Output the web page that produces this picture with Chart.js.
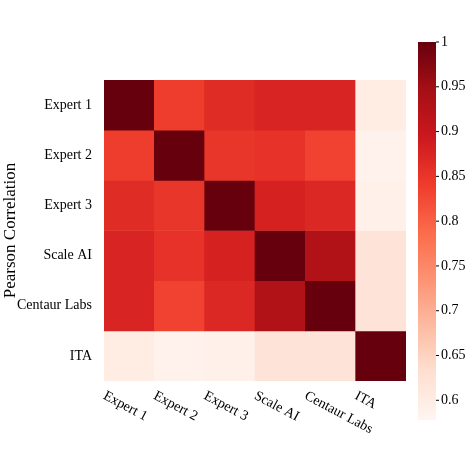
<!DOCTYPE html>
<html>
<head>
<meta charset="utf-8">
<script src="https://cdn.jsdelivr.net/npm/chart.js@4"></script>
<style>
  html, body { margin: 0; padding: 0; background: #fff; }
  #wrap { width: 474px; height: 474px; }
</style>
</head>
<body>
<div id="wrap"><canvas id="heat"></canvas></div>
<script>
var labels = ["Expert 1", "Expert 2", "Expert 3", "Scale AI", "Centaur Labs", "ITA"];
var rowExpert1 = [1.00, 0.84, 0.865, 0.875, 0.875, 0.60];
var rowExpert2 = [0.84, 1.00, 0.85, 0.855, 0.835, 0.585];
var rowExpert3 = [0.865, 0.85, 1.00, 0.88, 0.87, 0.59];
var rowScaleAI = [0.875, 0.855, 0.88, 1.00, 0.93, 0.62];
var rowCentaur = [0.875, 0.835, 0.87, 0.93, 1.00, 0.62];
var rowITA = [0.60, 0.585, 0.59, 0.62, 0.62, 1.00];
var rows = [rowExpert1, rowExpert2, rowExpert3, rowScaleAI, rowCentaur, rowITA];
var cbTicks = [0.6, 0.65, 0.7, 0.75, 0.8, 0.85, 0.9, 0.95, 1];
var vmin = 0.578, vmax = 1.0;

// matplotlib "Reds"
var reds = ["#fff5f0", "#fee0d2", "#fcbba1", "#fc9272", "#fb6a4a", "#ef3b2c", "#cb181d", "#a50f15", "#67000d"];
function hex(h) { return [parseInt(h.substr(1, 2), 16), parseInt(h.substr(3, 2), 16), parseInt(h.substr(5, 2), 16)]; }
function colorFor(v) {
    var t = Math.max(0, Math.min(1, (v - vmin) / (vmax - vmin))) * (reds.length - 1);
    var i = Math.min(reds.length - 2, Math.floor(t)), f = t - i;
    var a = hex(reds[i]), b = hex(reds[i + 1]);
    return "rgb(" + [0, 1, 2].map(function (k) { return Math.round(a[k] + (b[k] - a[k]) * f); }).join(",") + ")";
}

var FONT = "'Liberation Serif', 'DejaVu Serif', serif";

var datasets = rows.map(function (row, r) {
    return {
        label: labels[r],
        data: row.map(function (v) { return [r - 0.5, r + 0.5]; }),
        backgroundColor: row.map(colorFor),
        barPercentage: 1.0,
        categoryPercentage: 1.0,
        borderWidth: 0,
        grouped: false
    };
});

var extras = {
    id: "extras",
    afterDraw: function (chart) {
        var ctx = chart.ctx, x = chart.scales.x, area = chart.chartArea;
        ctx.save();
        // rotated x labels
        ctx.fillStyle = "#000";
        ctx.font = "14px " + FONT;
        ctx.textAlign = "left";
        ctx.textBaseline = "middle";
        labels.forEach(function (l, i) {
            ctx.save();
            ctx.translate(x.getPixelForValue(i) - 25, area.bottom + 14);
            ctx.rotate(Math.PI / 180 * 28);
            ctx.fillText(l, 0, 0);
            ctx.restore();
        });
        // colorbar
        var cx = 418, cw = 18, top = 42, bot = 420;
        var g = ctx.createLinearGradient(0, bot, 0, top);
        reds.forEach(function (c, i) { g.addColorStop(i / (reds.length - 1), c); });
        ctx.fillStyle = g;
        ctx.fillRect(cx, top, cw, bot - top);
        ctx.fillStyle = "#000";
        ctx.font = "14px " + FONT;
        cbTicks.forEach(function (v) {
            var y = bot - (v - vmin) / (vmax - vmin) * (bot - top);
            ctx.fillRect(cx + cw, y - 0.5, 3, 1);
            ctx.fillText(String(v), cx + cw + 5, y);
        });
        ctx.restore();
    }
};

new Chart(document.getElementById("heat").getContext("2d"), {
    type: "bar",
    data: { labels: labels, datasets: datasets },
    options: {
        responsive: true,
        maintainAspectRatio: false,
        animation: false,
        layout: { padding: { left: 0, right: 68, top: 80, bottom: 93 } },
        plugins: { legend: { display: false }, tooltip: { enabled: false } },
        scales: {
            x: { display: false, offset: true, grid: { display: false } },
            y: {
                min: -0.5, max: 5.5, reverse: true,
                grid: { display: false }, border: { display: false },
                afterFit: function (s) { s.width = 104; },
                afterBuildTicks: function (s) { s.ticks = labels.map(function (l, i) { return { value: i }; }); },
                ticks: {
                    color: "#000", font: { family: FONT, size: 14 }, padding: 4,
                    callback: function (v) { return labels[v]; }
                },
                title: { display: true, text: "Pearson Correlation", color: "#000", font: { family: FONT, size: 17 }, padding: 0 }
            }
        }
    },
    plugins: [extras]
});
</script>
</body>
</html>
